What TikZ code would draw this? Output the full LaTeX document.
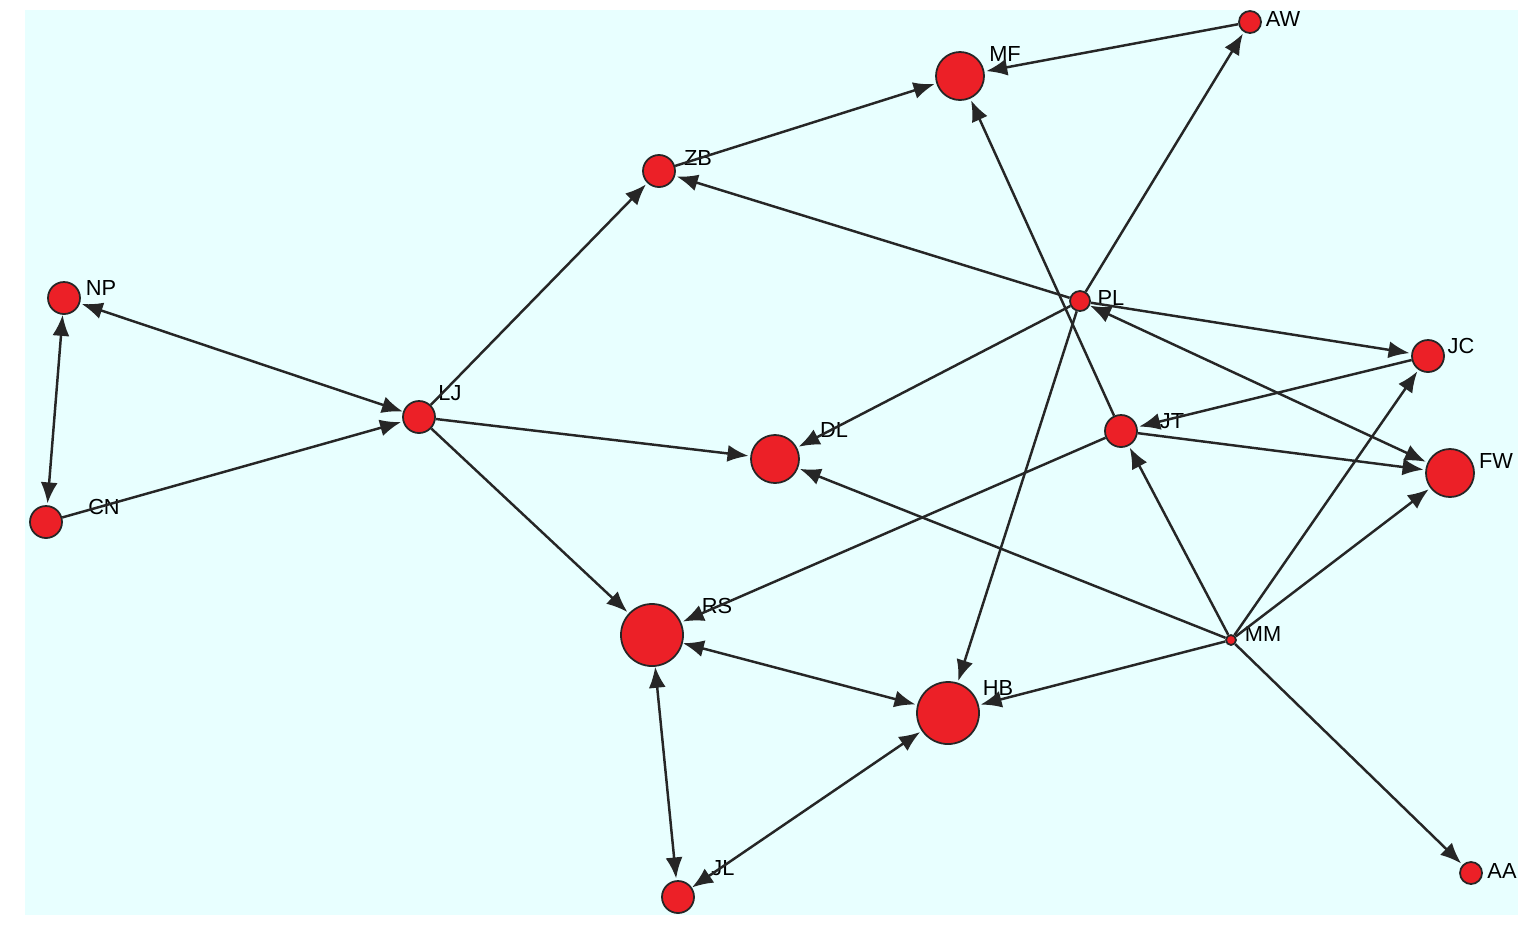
\documentclass[tikz,border=0pt]{standalone}
\usepackage{fontspec}
\setmainfont{Liberation Sans}
\usetikzlibrary{arrows.meta}
\definecolor{bgcyan}{RGB}{232,255,255}
\definecolor{vred}{RGB}{236,32,39}

\begin{document}
\begin{tikzpicture}[x=0.01cm,y=-0.01cm,% styles for all vertices and links
      vert/.style={circle,draw=black!85,fill=vred,line width=0.5pt,inner sep=0pt},
      lbl/.style={font=\fontsize{6.2}{7}\selectfont,inner sep=0pt},
      both/.style={{Latex[length=2.1mm,width=1.7mm]}-{Latex[length=2.1mm,width=1.7mm]}},
      every edge/.style={draw,line width=0.7pt,black!85,-{Latex[length=2.1mm,width=1.7mm]},shorten >=0.5pt}
    ]
    \fill[bgcyan] (25,10) rectangle (1518,915);
    \useasboundingbox (0,0) rectangle (1536,932);
    % vertices
    \node[vert,minimum size=0.48cm](MF) at (960,76) {};
    \node[vert,minimum size=0.22cm](AW) at (1250,22) {};
    \node[vert,minimum size=0.32cm](ZB) at (659,171) {};
    \node[vert,minimum size=0.32cm](NP) at (64,298) {};
    \node[vert,minimum size=0.32cm](LJ) at (419,417) {};
    \node[vert,minimum size=0.32cm](CN) at (46,522) {};
    \node[vert,minimum size=0.48cm](DL) at (775,459) {};
    \node[vert,minimum size=0.20cm](PL) at (1080,301) {};
    \node[vert,minimum size=0.32cm](JC) at (1428,356) {};
    \node[vert,minimum size=0.32cm](JT) at (1121,431) {};
    \node[vert,minimum size=0.48cm](FW) at (1450,473) {};
    \node[vert,minimum size=0.62cm](RS) at (652,635) {};
    \node[vert,minimum size=0.10cm](MM) at (1231,640) {};
    \node[vert,minimum size=0.62cm](HB) at (948,713) {};
    \node[vert,minimum size=0.32cm](JL) at (678,897) {};
    \node[vert,minimum size=0.22cm](AA) at (1471,873) {};
    % labels
    \node[lbl](MF-l) at (1005,54) {MF};
    \node[lbl](AW-l) at (1283,19) {AW};
    \node[lbl](ZB-l) at (698,158) {ZB};
    \node[lbl](NP-l) at (101,288) {NP};
    \node[lbl](LJ-l) at (450,393) {LJ};
    \node[lbl](CN-l) at (104,507) {CN};
    \node[lbl](DL-l) at (834,430) {DL};
    \node[lbl](PL-l) at (1111,298) {PL};
    \node[lbl](JC-l) at (1461,346) {JC};
    \node[lbl](JT-l) at (1172,421) {JT};
    \node[lbl](FW-l) at (1496,461) {FW};
    \node[lbl](RS-l) at (717,606) {RS};
    \node[lbl](MM-l) at (1263,634) {MM};
    \node[lbl](HB-l) at (998,688) {HB};
    \node[lbl](JL-l) at (723,868) {JL};
    \node[lbl](AA-l) at (1502,871) {AA};
    % links
    \path
    (AW) edge (MF)
    (ZB) edge (MF)
    (PL) edge (ZB)
    (PL) edge (AW)
    (PL) edge (JC)
    (PL) edge (DL)
    (PL) edge (HB)
    (PL) edge[both] (FW)
    (JT) edge (MF)
    (JC) edge (JT)
    (JT) edge (FW)
    (JT) edge (RS)
    (MM) edge (JT)
    (MM) edge (JC)
    (MM) edge (FW)
    (MM) edge (DL)
    (MM) edge (HB)
    (MM) edge (AA)
    (LJ) edge (ZB)
    (LJ) edge[both] (NP)
    (NP) edge[both] (CN)
    (CN) edge (LJ)
    (LJ) edge (DL)
    (LJ) edge (RS)
    (RS) edge[both] (HB)
    (RS) edge[both] (JL)
    (JL) edge[both] (HB)
    ;
  \end{tikzpicture}
\end{document}
